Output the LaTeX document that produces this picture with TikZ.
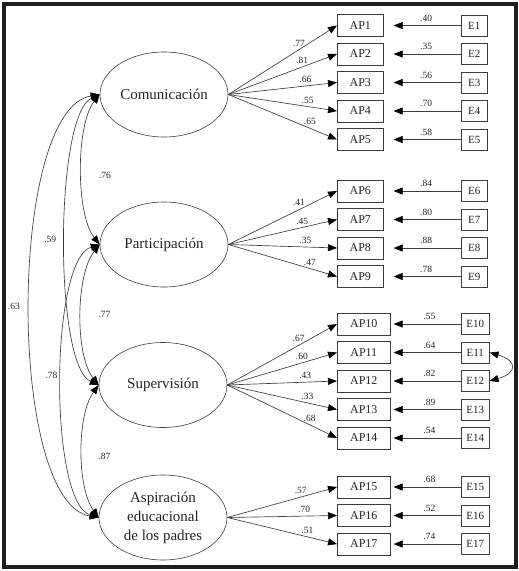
\documentclass[tikz,border=0pt]{standalone}
\usepackage{fontspec}
\setmainfont{Liberation Serif}
\usepackage{tikz}
\usetikzlibrary{shapes.geometric, arrows.meta, positioning}
\definecolor{mydark}{RGB}{35,35,35}
\definecolor{myline}{RGB}{60,60,60}
\definecolor{myframe}{RGB}{30,30,30}
\tikzset{
  latent/.style={ellipse, draw=myline, minimum width=128pt, minimum height=85pt,
    inner sep=0pt, align=center, font=\fontsize{15}{19}\selectfont,
    text=mydark, line width=0.6pt},
  indbox/.style={rectangle, draw=myline, minimum width=46pt, minimum height=22pt,
    inner sep=1pt, anchor=west, font=\fontsize{12}{14}\selectfont,
    text=mydark, line width=0.6pt},
  wideind/.style={indbox, minimum width=53pt},
  errbox/.style={rectangle, draw=myline, minimum width=26pt, minimum height=21pt,
    inner sep=1pt, anchor=west, font=\fontsize{11}{13}\selectfont,
    text=mydark, line width=0.6pt},
  wideerr/.style={errbox, minimum width=28pt},
  arrow/.style={-{Triangle[length=9pt,width=7pt,color=black]}, line width=0.65pt, color=myline},
  corr/.style={{Triangle[length=9pt,width=7pt,color=black]}-{Triangle[length=9pt,width=7pt,color=black]},
    line width=0.65pt, color=myline},
  coef/.style={font=\fontsize{9.5}{11}\selectfont, text=mydark, inner sep=1pt}
}

\begin{document}
\begin{tikzpicture}[x=1pt, y=-1pt]
  \useasboundingbox (0,0) rectangle (519,571);
  \draw[line width=4pt, myframe] (4,3.5) rectangle (516,566.5);

  % latent factors
  \node[latent] (com) at (164,94.5) {Comunicación};
  \node[latent] (part) at (164,244.5) {Participación};
  \node[latent] (sup) at (163,385) {Supervisión};
  \node[latent] (asp) at (163,517.5) {Aspiración\\educacional\\de los padres};

  % indicators
  \node[indbox] (ap1) at (337,25.5) {AP1};
  \node[indbox] (ap2) at (337,54) {AP2};
  \node[indbox] (ap3) at (337,82.5) {AP3};
  \node[indbox] (ap4) at (337,111) {AP4};
  \node[indbox] (ap5) at (337,139.5) {AP5};
  \node[indbox] (ap6) at (337,191) {AP6};
  \node[indbox] (ap7) at (337,219.5) {AP7};
  \node[indbox] (ap8) at (337,248) {AP8};
  \node[indbox] (ap9) at (337,276.5) {AP9};
  \node[wideind] (ap10) at (337,324) {AP10};
  \node[wideind] (ap11) at (337,352.5) {AP11};
  \node[wideind] (ap12) at (337,381) {AP12};
  \node[wideind] (ap13) at (337,409.5) {AP13};
  \node[wideind] (ap14) at (337,438) {AP14};
  \node[wideind] (ap15) at (337,487) {AP15};
  \node[wideind] (ap16) at (337,515.5) {AP16};
  \node[wideind] (ap17) at (337,544) {AP17};

  % errors
  \node[errbox] (e1) at (461,25.5) {E1};
  \node[errbox] (e2) at (461,54) {E2};
  \node[errbox] (e3) at (461,82.5) {E3};
  \node[errbox] (e4) at (461,111) {E4};
  \node[errbox] (e5) at (461,139.5) {E5};
  \node[errbox] (e6) at (461,191) {E6};
  \node[errbox] (e7) at (461,219.5) {E7};
  \node[errbox] (e8) at (461,248) {E8};
  \node[errbox] (e9) at (461,276.5) {E9};
  \node[wideerr] (e10) at (461,324) {E10};
  \node[wideerr] (e11) at (461,352.5) {E11};
  \node[wideerr] (e12) at (461,381) {E12};
  \node[wideerr] (e13) at (461,409.5) {E13};
  \node[wideerr] (e14) at (461,438) {E14};
  \node[wideerr] (e15) at (461,487) {E15};
  \node[wideerr] (e16) at (461,515.5) {E16};
  \node[wideerr] (e17) at (461,544) {E17};

  % loadings
  \draw[arrow] (com.east) -- node[coef, pos=0.65, above=2pt] {.77} (ap1.west);
  \draw[arrow] (com.east) -- node[coef, pos=0.68, above=2pt] {.81} (ap2.west);
  \draw[arrow] (com.east) -- node[coef, pos=0.71, above=2pt] {.66} (ap3.west);
  \draw[arrow] (com.east) -- node[coef, pos=0.73, above=2pt] {.55} (ap4.west);
  \draw[arrow] (com.east) -- node[coef, pos=0.75, above=2pt] {.65} (ap5.west);
  \draw[arrow] (part.east) -- node[coef, pos=0.65, above=3pt] {.41} (ap6.west);
  \draw[arrow] (part.east) -- node[coef, pos=0.68, above=2pt] {.45} (ap7.west);
  \draw[arrow] (part.east) -- node[coef, pos=0.71, above=2pt] {.35} (ap8.west);
  \draw[arrow] (part.east) -- node[coef, pos=0.75, above=2pt] {.47} (ap9.west);
  \draw[arrow] (sup.east) -- node[coef, pos=0.65, above=2pt] {.67} (ap10.west);
  \draw[arrow] (sup.east) -- node[coef, pos=0.68, above=2pt] {.60} (ap11.west);
  \draw[arrow] (sup.east) -- node[coef, pos=0.71, above=2pt] {.43} (ap12.west);
  \draw[arrow] (sup.east) -- node[coef, pos=0.73, above=2pt] {.33} (ap13.west);
  \draw[arrow] (sup.east) -- node[coef, pos=0.75, above=2pt] {.68} (ap14.west);
  \draw[arrow] (asp.east) -- node[coef, pos=0.67, above=2pt] {.57} (ap15.west);
  \draw[arrow] (asp.east) -- node[coef, pos=0.70, above=2pt] {.70} (ap16.west);
  \draw[arrow] (asp.east) -- node[coef, pos=0.73, above=2pt] {.51} (ap17.west);

  % error paths
  \draw[arrow, shorten >=10pt] (e1) -- node[coef, pos=0.45, above=3pt] {.40} (ap1);
  \draw[arrow, shorten >=10pt] (e2) -- node[coef, pos=0.45, above=3pt] {.35} (ap2);
  \draw[arrow, shorten >=10pt] (e3) -- node[coef, pos=0.45, above=3pt] {.56} (ap3);
  \draw[arrow, shorten >=10pt] (e4) -- node[coef, pos=0.45, above=3pt] {.70} (ap4);
  \draw[arrow, shorten >=10pt] (e5) -- node[coef, pos=0.45, above=3pt] {.58} (ap5);
  \draw[arrow, shorten >=10pt] (e6) -- node[coef, pos=0.45, above=3pt] {.84} (ap6);
  \draw[arrow, shorten >=10pt] (e7) -- node[coef, pos=0.45, above=3pt] {.80} (ap7);
  \draw[arrow, shorten >=10pt] (e8) -- node[coef, pos=0.45, above=3pt] {.88} (ap8);
  \draw[arrow, shorten >=10pt] (e9) -- node[coef, pos=0.45, above=3pt] {.78} (ap9);
  \draw[arrow, shorten >=3pt] (e10) -- node[coef, pos=0.45, above=3pt] {.55} (ap10);
  \draw[arrow, shorten >=3pt] (e11) -- node[coef, pos=0.45, above=3pt] {.64} (ap11);
  \draw[arrow, shorten >=3pt] (e12) -- node[coef, pos=0.45, above=3pt] {.82} (ap12);
  \draw[arrow, shorten >=3pt] (e13) -- node[coef, pos=0.45, above=3pt] {.89} (ap13);
  \draw[arrow, shorten >=3pt] (e14) -- node[coef, pos=0.45, above=3pt] {.54} (ap14);
  \draw[arrow, shorten >=3pt] (e15) -- node[coef, pos=0.45, above=3pt] {.68} (ap15);
  \draw[arrow, shorten >=3pt] (e16) -- node[coef, pos=0.45, above=3pt] {.52} (ap16);
  \draw[arrow, shorten >=3pt] (e17) -- node[coef, pos=0.45, above=3pt] {.74} (ap17);

  % covariances
  \draw[corr] (com.west) .. controls +(-24,30) and +(-24,-30) .. node[coef, right=16pt, yshift=-6pt] {.76} (part.west);
  \draw[corr] (com.west) .. controls +(-45,20) and +(-45,-20) .. node[coef, left=8pt] {.59} (sup.west);
  \draw[corr] (com.west) .. controls +(-92,15) and +(-92,-15) .. node[coef, left=9pt] {.63} (asp.west);
  \draw[corr] (part.west) .. controls +(-24,30) and +(-24,-30) .. node[coef, right=16pt] {.77} (sup.west);
  \draw[corr] (part.west) .. controls +(-50,15) and +(-50,-15) .. node[coef, left=3pt, yshift=6pt] {.78} (asp.west);
  \draw[corr] (sup.west) .. controls +(-22,30) and +(-22,-30) .. node[coef, right=15pt, yshift=-5pt] {.87} (asp.west);
  \draw[corr] (e11.east) .. controls +(28,8) and +(28,-8) .. (e12.east);
\end{tikzpicture}
\end{document}
